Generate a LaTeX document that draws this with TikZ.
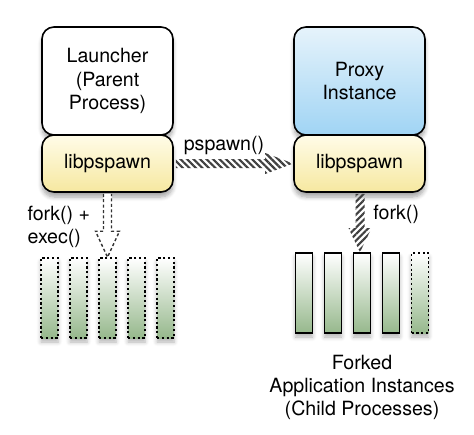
\documentclass[tikz,border=0pt]{standalone}
\usepackage{fontspec}
\setmainfont{TeX Gyre Heros}
\usepackage{tikz}
\usetikzlibrary{calc, positioning, shadows, shadows.blur, patterns.meta}
\definecolor{proxytop}{RGB}{230,243,251}
\definecolor{proxybot}{RGB}{160,212,244}
\definecolor{libtop}{RGB}{255,252,232}
\definecolor{libbot}{RGB}{246,232,160}
\definecolor{bargreen}{RGB}{150,184,140}

\begin{document}
\begin{tikzpicture}[
  x=0.5pt, y=0.5pt,
  font=\fontsize{9.8}{11.6}\selectfont,
  module/.style={rectangle, draw=black, line width=0.8pt, rounded corners=6pt, minimum width=65.5pt, align=center,
    blur shadow={shadow xshift=0pt, shadow yshift=-2.5pt, shadow opacity=35, shadow blur steps=6}},
  top/.style={module, minimum height=54pt, fill=white},
  proxybox/.style={module, minimum height=54pt, top color=proxytop, bottom color=proxybot},
  libbox/.style={module, minimum height=28.5pt, top color=libtop, bottom color=libbot},
  child/.style={rectangle, draw=black, line width=0.8pt, minimum width=8.5pt, minimum height=40pt, inner sep=0pt,
    top color=white, bottom color=bargreen,
    blur shadow={shadow xshift=0pt, shadow yshift=-2pt, shadow opacity=30, shadow blur steps=5}},
  ghost/.style={child, dash pattern=on 1.1pt off 1.3pt},
  hatch/.style={pattern={Lines[angle=-45, distance=2.3pt, line width=1.1pt]}, pattern color=black!75},
  hatchv/.style={pattern={Lines[angle=45, distance=2.3pt, line width=1.1pt]}, pattern color=black!75},
  openarrow/.style={draw=black!80, fill=white, line width=0.7pt, dash pattern=on 1.5pt off 1.2pt},
  lbl/.style={inner sep=1pt, align=left}
]
\useasboundingbox (0,0) rectangle (474,-434);

% --- Prozesse oben ---
\node[top]      (launcher) at (107.5,-81)    {Launcher\\(Parent\\Process)};
\node[libbox]   (libL)     at (107.5,-163.5) {libpspawn};
\node[proxybox] (proxy)    at (359.5,-81)    {Proxy\\Instance};
\node[libbox]   (libR)     at (359.5,-163.5) {libpspawn};

% --- Kindprozesse ---
\foreach \i in {1,...,5} {
  \node[ghost] (barL\i) at (20.5+29*\i,-298) {};
}
\foreach \i in {1,...,4} {
  \node[child] (barR\i) at (275+29*\i,-293) {};
}
\node[ghost] (barR5) at (420,-293) {};

\node[align=center, below=7pt of barR3.south] (forked) {Forked\\Application Instances\\(Child Processes)};

% Verbindungen
% pspawn() -- schraffierter Pfeil
\fill[hatch] ($(libL.east)+(2,4.5)$) -- ($(libR.west)+(-28,4.5)$) -- ($(libR.west)+(-28,10.5)$) -- (libR.west)
  -- ($(libR.west)+(-28,-10.5)$) -- ($(libR.west)+(-28,-4.5)$) -- ($(libL.east)+(2,-4.5)$) -- cycle;
\node[lbl, above] (pspawnlbl) at ($(libL.east)!0.42!(libR.west)+(0,6)$) {pspawn()};

% fork() + exec() -- offener gestrichelter Pfeil
\draw[openarrow] ($(libL.south)+(-4,-1)$) -- ($(barL3.north)+(-4,26)$) -- ($(barL3.north)+(-12,26)$)
  -- (barL3.north) -- ($(barL3.north)+(12,26)$) -- ($(barL3.north)+(4,26)$) -- ($(libL.south)+(4,-1)$);
\node[lbl, anchor=east] (execlbl) at ($(barL3.north)+(-15,30)$) {fork() +\\exec()};

% fork() -- schraffierter Pfeil nach unten
\coordinate (forktip) at ($(barR3.north)+(-2,0)$);
\fill[hatchv] ($(forktip |- libR.south)+(-4.5,-1)$) -- ($(forktip)+(-4.5,24)$) -- ($(forktip)+(-11.5,24)$) -- (forktip)
  -- ($(forktip)+(11.5,24)$) -- ($(forktip)+(4.5,24)$) -- ($(forktip |- libR.south)+(4.5,-1)$) -- cycle;
\node[lbl, anchor=west] (forklbl) at ($(forktip)+(11,38)$) {fork()};
\end{tikzpicture}
\end{document}
